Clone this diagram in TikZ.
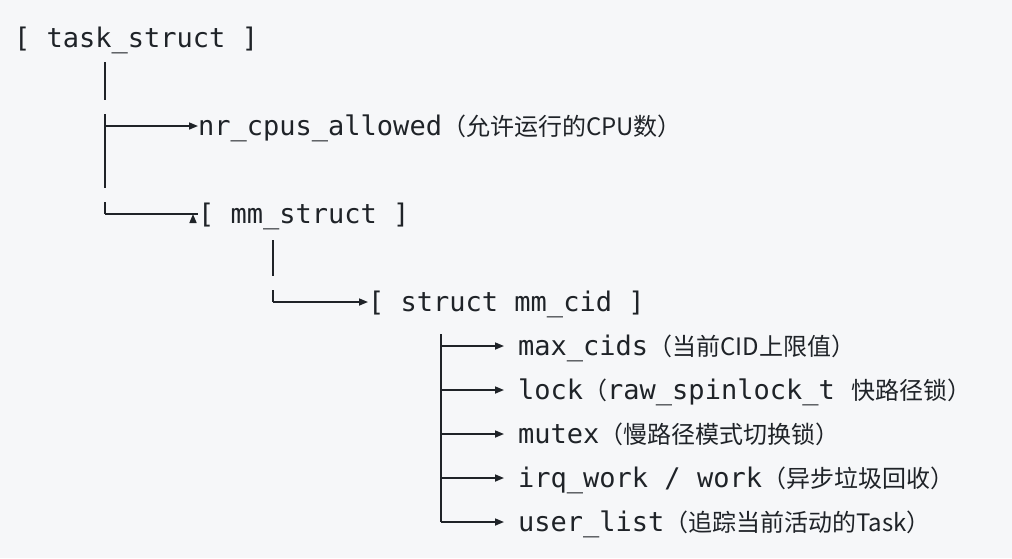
\documentclass[tikz,border=0pt]{standalone}
\usepackage{fontspec}
\setmonofont{DejaVu Sans Mono}
\newfontfamily\cjk{Noto Sans CJK SC}
\newcommand{\zh}[1]{{\cjk\fontsize{24}{24}\selectfont #1}}
\usetikzlibrary{arrows.meta}
\definecolor{bg}{HTML}{F6F7F9}
\definecolor{ink}{HTML}{1F2328}
\begin{document}
\begin{tikzpicture}[x=1pt,y=-1pt,
  lbl/.style={anchor=base west,inner sep=0pt,text=ink,font=\ttfamily\fontsize{27}{27}\selectfont},
  tree/.style={draw=ink,line width=1.6pt},
  arr/.style={tree,-{Triangle[length=9pt,width=7pt]}}]
\fill[bg] (0,0) rectangle (1012,558);
\useasboundingbox (0,0) rectangle (1012,558);
\node[lbl] (ts) at (14,47) {[ task\_struct ]};
\node[lbl] (nr) at (198,135) {nr\_cpus\_allowed\zh{（允许运行的CPU数）}};
\node[lbl] (mm) at (198,223) {[ mm\_struct ]};
\node[lbl] (cid) at (368,311) {[ struct mm\_cid ]};
\node[lbl] (c1) at (518,355) {max\_cids\zh{（当前CID上限值）}};
\node[lbl] (c2) at (518,399) {lock\zh{（}raw\_spinlock\_t \zh{快路径锁）}};
\node[lbl] (c3) at (518,443) {mutex\zh{（慢路径模式切换锁）}};
\node[lbl] (c4) at (518,487) {irq\_work / work\zh{（异步垃圾回收）}};
\node[lbl] (c5) at (518,531) {user\_list\zh{（追踪当前活动的Task）}};
\coordinate (a0) at (105,62);
\coordinate (a1) at (105,126);
\coordinate (a2) at (105,214);
\draw[tree] (a0) -- (105,100);
\draw[tree] (105,114) -- (105,188);
\draw[tree] (105,202) -- (a2);
\draw[arr] (a1) -- (nr.west |- a1);
\draw[arr] (a2) -- (mm.west |- a2) ++(-5,0);
\coordinate (b0) at (273,240);
\coordinate (b1) at (273,302);
\draw[tree] (b0) -- (273,276);
\draw[tree] (273,290) -- (b1);
\draw[arr] (b1) -- (cid.west |- b1);
\coordinate (d0) at (441,334);
\coordinate (d5) at (441,522);
\draw[tree] (d0) -- (d5);
\foreach \n/\y in {c1/346,c2/390,c3/434,c4/478,c5/522}
  \draw[arr] (441,\y) -- ([xshift=-14pt]\n.west |- 0,\y);
\end{tikzpicture}
\end{document}
